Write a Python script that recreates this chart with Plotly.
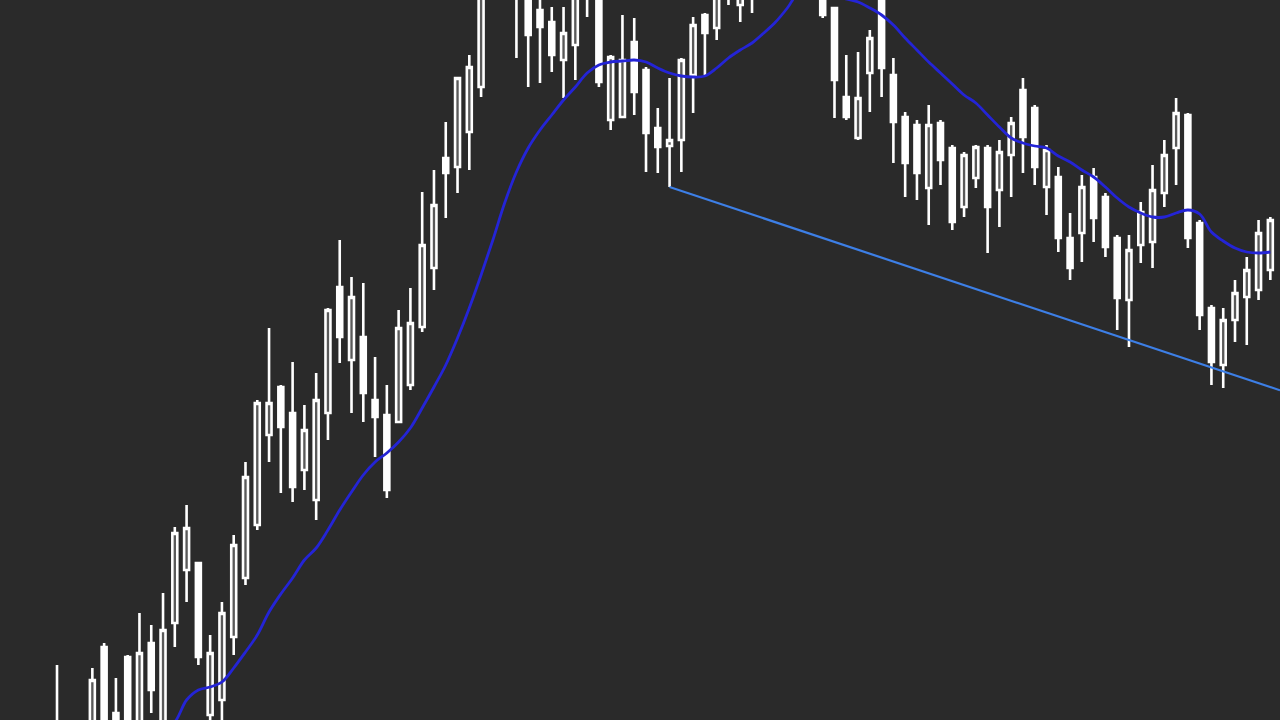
import plotly.graph_objects as go

BG = "#2a2a2a"

# Candle index (trading sessions)
idx = list(range(104))

open_ = [-40, -30, -50, -20, 73, 7, 63, -5, 77, -5,
         97, 150, 157, 5, 20, 83, 142, 195, 285, 333,
         307, 250, 220, 307, 433, 360, 383, 320, 305, 298,
         335, 393, 452, 562, 553, 588, 633, 800, 730, 760,
         740, 710, 698, 660, 675, 750, 740, 600, 603, 678,
         650, 592, 574, 580, 645, 705, 692, 750, 715, 725,
         740, 760, 810, 800, 780, 740, 712, 623, 582, 647,
         730, 645, 603, 595, 532, 597, 572, 513, 542, 572,
         530, 565, 630, 612, 533, 543, 482, 487, 543, 523,
         482, 420, 475, 478, 527, 572, 605, 497, 412, 355,
         400, 423, 430, 450]
high = [55, -20, -15, 52, 77, 42, 65, 107, 95, 127,
        193, 215, 157, 85, 118, 185, 258, 320, 392, 335,
        358, 315, 347, 412, 480, 443, 437, 363, 335, 410,
        432, 528, 550, 598, 642, 665, 750, 810, 800, 780,
        760, 740, 713, 713, 750, 760, 760, 665, 705, 702,
        653, 612, 642, 662, 703, 707, 740, 760, 760, 770,
        800, 820, 830, 820, 800, 760, 712, 665, 668, 690,
        750, 662, 608, 600, 615, 600, 575, 568, 575, 575,
        580, 603, 642, 615, 575, 553, 507, 545, 552, 527,
        485, 485, 518, 555, 580, 622, 607, 500, 415, 412,
        440, 463, 500, 503]
low = [-50, -70, -65, -35, -25, -30, -15, -15, 7, -20,
       73, 118, 55, -5, -5, 65, 135, 190, 258, 227,
       218, 230, 200, 280, 357, 307, 298, 263, 222, 297,
       330, 388, 430, 502, 527, 550, 623, 740, 725, 662,
       633, 637, 648, 622, 640, 703, 633, 590, 602, 605,
       548, 547, 533, 548, 607, 645, 680, 715, 698, 707,
       725, 735, 745, 740, 728, 702, 602, 600, 580, 608,
       623, 557, 523, 520, 495, 535, 490, 503, 532, 467,
       493, 523, 547, 535, 505, 468, 440, 458, 478, 463,
       390, 373, 457, 452, 513, 535, 472, 390, 335, 332,
       378, 375, 420, 440]
close = [-10, -60, -25, 40, -10, -20, -5, 67, 30, 90,
         187, 192, 63, 67, 107, 175, 243, 317, 317, 293,
         233, 290, 320, 410, 383, 423, 327, 303, 230, 392,
         397, 475, 515, 547, 642, 653, 740, 750, 790, 725,
         685, 693, 665, 687, 730, 725, 638, 663, 660, 628,
         587, 573, 580, 660, 695, 687, 730, 730, 745, 750,
         780, 800, 770, 760, 740, 705, 640, 603, 622, 682,
         652, 598, 557, 547, 595, 560, 498, 565, 573, 513,
         568, 597, 583, 553, 570, 482, 452, 533, 502, 473,
         422, 470, 508, 530, 565, 607, 482, 405, 358, 400,
         427, 450, 487, 500]

# Moving average line
ma = [-120, -105, -90, -75, -62, -50, -40, -30, -20, -10,
      -2, 20, 30, 33, 38, 52, 68, 85, 108, 126,
      142, 160, 172, 190, 210, 228, 245, 258, 267, 278,
      292, 312, 333, 355, 382, 412, 445, 480, 517, 548,
      572, 590, 605, 620, 633, 647, 655, 658, 659, 660,
      658, 652, 647, 644, 643, 644, 652, 662, 670, 677,
      687, 698, 712, 728, 730, 728, 725, 721, 718, 712,
      705, 695, 682, 670, 658, 647, 636, 625, 617, 605,
      593, 582, 577, 574, 572, 564, 558, 550, 543, 533,
      522, 513, 507, 503, 503, 507, 510, 506, 488, 479,
      472, 468, 467, 468]

# Trendline anchors (index, price)
trend_idx = [52, 91]
trend_val = [533, 380]

x_range = [-4.84, 103.82]
y_range = [0, 720]

slope = (trend_val[1] - trend_val[0]) / (trend_idx[1] - trend_idx[0])
trend_x = [trend_idx[0], x_range[1]]
trend_y = [trend_val[0], trend_val[0] + slope * (x_range[1] - trend_idx[0])]

fig = go.Figure()
fig.add_trace(go.Scatter(x=trend_x, y=trend_y, mode="lines",
                         line=dict(color="#3d7fe6", width=2.2),
                         hoverinfo="skip", showlegend=False))
fig.add_trace(go.Scatter(x=idx, y=ma, mode="lines",
                         line=dict(color="#2424d6", width=2.8, shape="spline", smoothing=1.0),
                         hoverinfo="skip", showlegend=False))
fig.add_trace(go.Candlestick(
    x=idx, open=open_, high=high, low=low, close=close,
    increasing=dict(line=dict(color="#ffffff", width=2.6), fillcolor="#5a5a5a"),
    decreasing=dict(line=dict(color="#ffffff", width=2.6), fillcolor="#ffffff"),
    whiskerwidth=0, showlegend=False))

fig.update_layout(
    width=1280, height=720,
    margin=dict(l=0, r=0, t=0, b=0),
    paper_bgcolor=BG, plot_bgcolor=BG,
    boxgap=0.4,
    xaxis=dict(range=x_range, visible=False, showgrid=False, zeroline=False,
               rangeslider=dict(visible=False), fixedrange=True),
    yaxis=dict(range=y_range, visible=False, showgrid=False, zeroline=False),
    showlegend=False,
)

fig.write_html(
    "out.html",
    config={"displayModeBar": False},
    post_script="document.body.style.margin='0';document.body.style.background='#2a2a2a';document.body.style.overflow='hidden';",
)
